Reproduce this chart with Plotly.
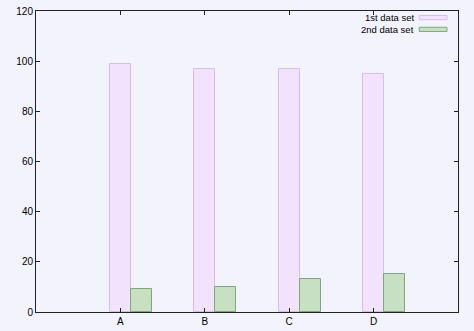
import plotly.graph_objects as go

categories = ["A", "B", "C", "D"]
set1 = [99, 97, 97, 95]
set2 = [9, 10, 13, 15]
names = ["1st data set", "2nd data set"]
y_ticks = [0, 20, 40, 60, 80, 100, 120]

pink_fill, pink_line = "#f2e2fb", "#d6bdf0"
green_fill, green_line = "#c7e0c1", "#7fa77f"
bg = "#f3f3fd"

xpos = list(range(len(categories)))
bw = 0.25

fig = go.Figure()
fig.add_trace(go.Bar(x=xpos, y=set1, width=bw, name=names[0],
                     marker=dict(color=pink_fill, line=dict(color=pink_line, width=1))))
fig.add_trace(go.Bar(x=[p + bw for p in xpos], y=set2, width=bw, name=names[1],
                     marker=dict(color=green_fill, line=dict(color=green_line, width=1))))

# custom gnuplot-like legend: text right-aligned, swatch on the right
for i, (nm, fc, lc) in enumerate([(names[0], pink_fill, pink_line), (names[1], green_fill, green_line)]):
    yc = 0.978 - i * 0.039
    fig.add_annotation(xref="paper", yref="paper", x=0.899, y=yc, text=nm, showarrow=False,
                       xanchor="right", yanchor="middle", borderpad=0,
                       font=dict(family="Liberation Sans, Arial", size=9.5, color="#000"))
    fig.add_shape(type="rect", xref="paper", yref="paper", x0=0.908, x1=0.974,
                  y0=yc - 0.007, y1=yc + 0.007, fillcolor=fc, line=dict(color=lc, width=1))

fig.update_layout(
    width=474, height=331,
    margin=dict(l=36, r=16, t=11, b=19, autoexpand=False),
    paper_bgcolor=bg, plot_bgcolor=bg,
    showlegend=False,
    bargap=0,
    font=dict(family="Liberation Sans, Arial", size=10, color="#000"),
)
fig.update_xaxes(range=[-1, 4], tickmode="array", tickvals=xpos, ticktext=categories,
                 automargin=False,
                 showgrid=False, zeroline=False, showline=True, linecolor="#222", linewidth=1,
                 mirror="ticks", ticks="inside", ticklen=4, tickcolor="#222")
fig.update_yaxes(range=[0, 120], tickmode="array", tickvals=y_ticks, automargin=False,
                 showgrid=False, zeroline=False, showline=True, linecolor="#222", linewidth=1,
                 mirror="ticks", ticks="inside", ticklen=4, tickcolor="#222")

fig.write_html("out.html")
